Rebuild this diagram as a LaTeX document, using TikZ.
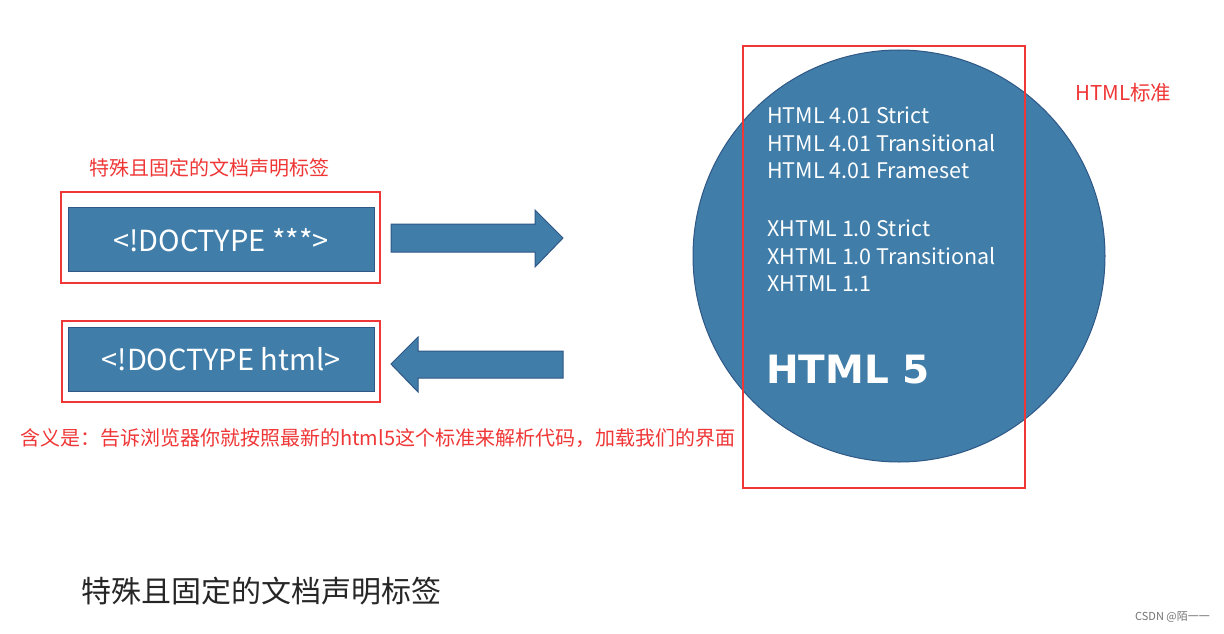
\documentclass[tikz,border=0pt]{standalone}
\usepackage{fontspec}
\setmainfont{Noto Sans CJK SC}
\newfontfamily\boldsans{DejaVu Sans}
\definecolor{boxblue}{RGB}{64,125,168}
\definecolor{boxedge}{RGB}{47,88,135}
\definecolor{markred}{RGB}{240,55,55}
\tikzset{
  bluebox/.style={draw=boxedge, line width=1pt, fill=boxblue},
  redframe/.style={draw=markred, line width=2.6pt},
  doctext/.style={text=white, font=\fontsize{29}{33}\selectfont, inner sep=0pt},
  vertext/.style={text=white, font=\fontsize{21.5}{24}\selectfont, anchor=west, inner sep=0pt},
  rednote/.style={text=markred, inner sep=0pt},
}
\begin{document}
\begin{tikzpicture}[x=1pt,y=-1pt]
\useasboundingbox[fill=white] (0,0) rectangle (1224,634);
% left boxes
\node[rednote, font=\fontsize{20}{23}\selectfont, anchor=west] (lab1) at (89,168) {特殊且固定的文档声明标签};
\draw[redframe] (61,192) rectangle (380,283);
\draw[bluebox] (68,207) rectangle (374,271);
\node[doctext] (d1) at (221,240) {<!DOCTYPE ***>};
\draw[redframe] (62,321) rectangle (380,402);
\draw[bluebox] (68,327) rectangle (374,391);
\node[doctext] (d2) at (221,359) {<!DOCTYPE html>};
% arrows
\draw[bluebox] (391,224) -- (535,224) -- (535,210) -- (563,238) -- (535,267) -- (535,252) -- (391,252) -- cycle;
\draw[bluebox] (563,351) -- (418,351) -- (418,337) -- (391,364) -- (418,392) -- (418,378) -- (563,378) -- cycle;
% circle
\node[circle, bluebox, minimum size=412pt, inner sep=0pt] (circ) at (899,256) {};
\node[vertext] (v1) at (767,115) {HTML 4.01 Strict};
\node[vertext] (v2) at (767,143) {HTML 4.01 Transitional};
\node[vertext] (v3) at (767,171) {HTML 4.01 Frameset};
\node[vertext] (v4) at (767,228) {XHTML 1.0 Strict};
\node[vertext] (v5) at (767,256) {XHTML 1.0 Transitional};
\node[vertext] (v6) at (767,284) {XHTML 1.1};
\node[text=white, anchor=west, inner sep=0pt, font=\boldsans\bfseries\fontsize{39}{44}\selectfont] (h5) at (766,370) {HTML 5};
\draw[redframe] (743,46) rectangle (1025,488);
\node[rednote, font=\fontsize{20.5}{24}\selectfont, anchor=west] (std) at (1075,93) {HTML标准};
% explanation
\node[rednote, font=\fontsize{20}{23}\selectfont, anchor=west] (expl) at (20,438) {含义是：告诉浏览器你就按照最新的html5这个标准来解析代码，加载我们的界面};
% bottom title
\node[font=\fontsize{30}{35}\selectfont, anchor=west, inner sep=0pt, text=black!85] (title) at (81,591) {特殊且固定的文档声明标签};
\node[font=\fontsize{11}{13}\selectfont, anchor=east, inner sep=0pt, text=black!55] (csdn) at (1210,617) {CSDN @陌一一};
\end{tikzpicture}
\end{document}
